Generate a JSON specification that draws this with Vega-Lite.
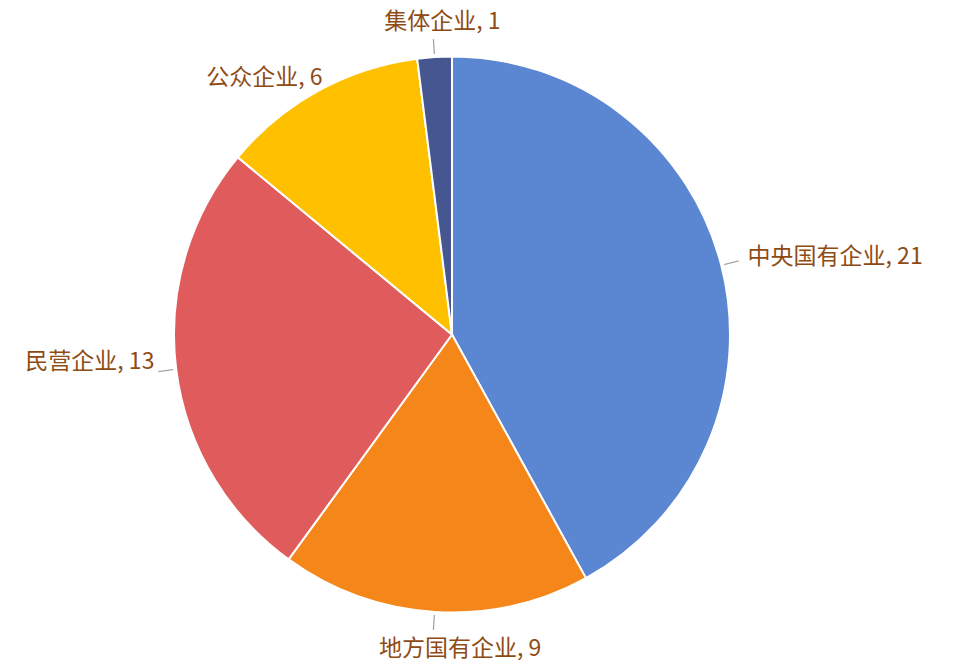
{
  "$schema": "https://vega.github.io/schema/vega-lite/v6.json",
  "width": 958,
  "height": 669,
  "autosize": {"type": "fit", "contains": "padding"},
  "padding": {"left": 0, "right": 54, "top": 0, "bottom": 0},
  "background": "white",
  "view": {"stroke": null},
  "data": {
    "values": [
      {"idx": 1, "name": "中央国有企业", "value": 21},
      {"idx": 2, "name": "地方国有企业", "value": 9},
      {"idx": 3, "name": "民营企业", "value": 13},
      {"idx": 4, "name": "公众企业", "value": 6},
      {"idx": 5, "name": "集体企业", "value": 1}
    ]
  },
  "transform": [
    {"calculate": "datum.name + ', ' + datum.value", "as": "label"}
  ],
  "encoding": {
    "theta": {"field": "value", "type": "quantitative", "stack": true, "scale": {"domain": [0, 50]}},
    "order": {"field": "idx", "type": "quantitative", "sort": "ascending"}
  },
  "layer": [
    {
      "mark": {"type": "arc", "radius": 278, "stroke": "white", "strokeWidth": 2},
      "encoding": {
        "color": {
          "field": "name",
          "type": "nominal",
          "legend": null,
          "scale": {
            "domain": ["中央国有企业", "地方国有企业", "民营企业", "公众企业", "集体企业"],
            "range": ["#5B87D2", "#F5861A", "#E05C5C", "#FFC000", "#465690"]
          }
        }
      }
    },
    {
      "transform": [
        {"window": [{"op": "sum", "field": "value", "as": "cum"}], "sort": [{"field": "idx"}]},
        {"calculate": "datum.cum - datum.value / 2 - 0.018", "as": "a"},
        {"calculate": "datum.a + 0.036", "as": "b"},
        {"filter": "datum.name != '公众企业'"}
      ],
      "mark": {"type": "arc", "radius": 281, "radius2": 296, "fill": "#A6A6A6"},
      "encoding": {
        "theta": {"field": "a", "type": "quantitative", "stack": null, "scale": {"domain": [0, 50]}},
        "theta2": {"field": "b"}
      }
    },
    {
      "mark": {"type": "text", "radius": 300, "align": "left", "baseline": "middle", "dx": 5, "dy": -3, "font": "Noto Sans CJK SC", "fontSize": 23, "fill": "#8F4B14"},
      "encoding": {
        "text": {"condition": {"test": "datum.name == '中央国有企业'", "field": "label"}, "value": ""}
      }
    },
    {
      "mark": {"type": "text", "radius": 305, "align": "right", "baseline": "middle", "dx": 5, "dy": -11, "font": "Noto Sans CJK SC", "fontSize": 23, "fill": "#8F4B14"},
      "encoding": {
        "text": {"condition": {"test": "datum.name == '民营企业'", "field": "label"}, "value": ""}
      }
    },
    {
      "mark": {"type": "text", "radius": 300, "align": "right", "baseline": "middle", "dx": 15, "dy": 6, "font": "Noto Sans CJK SC", "fontSize": 23, "fill": "#8F4B14"},
      "encoding": {
        "text": {"condition": {"test": "datum.name == '公众企业'", "field": "label"}, "value": ""}
      }
    },
    {
      "mark": {"type": "text", "radius": 315, "align": "center", "baseline": "middle", "dx": 28, "dy": 0, "font": "Noto Sans CJK SC", "fontSize": 23, "fill": "#8F4B14"},
      "encoding": {
        "text": {"condition": {"test": "datum.name == '地方国有企业'", "field": "label"}, "value": ""}
      }
    },
    {
      "mark": {"type": "text", "radius": 314, "align": "center", "baseline": "middle", "dx": 10, "dy": 1, "font": "Noto Sans CJK SC", "fontSize": 23, "fill": "#8F4B14"},
      "encoding": {
        "text": {"condition": {"test": "datum.name == '集体企业'", "field": "label"}, "value": ""}
      }
    }
  ]
}
